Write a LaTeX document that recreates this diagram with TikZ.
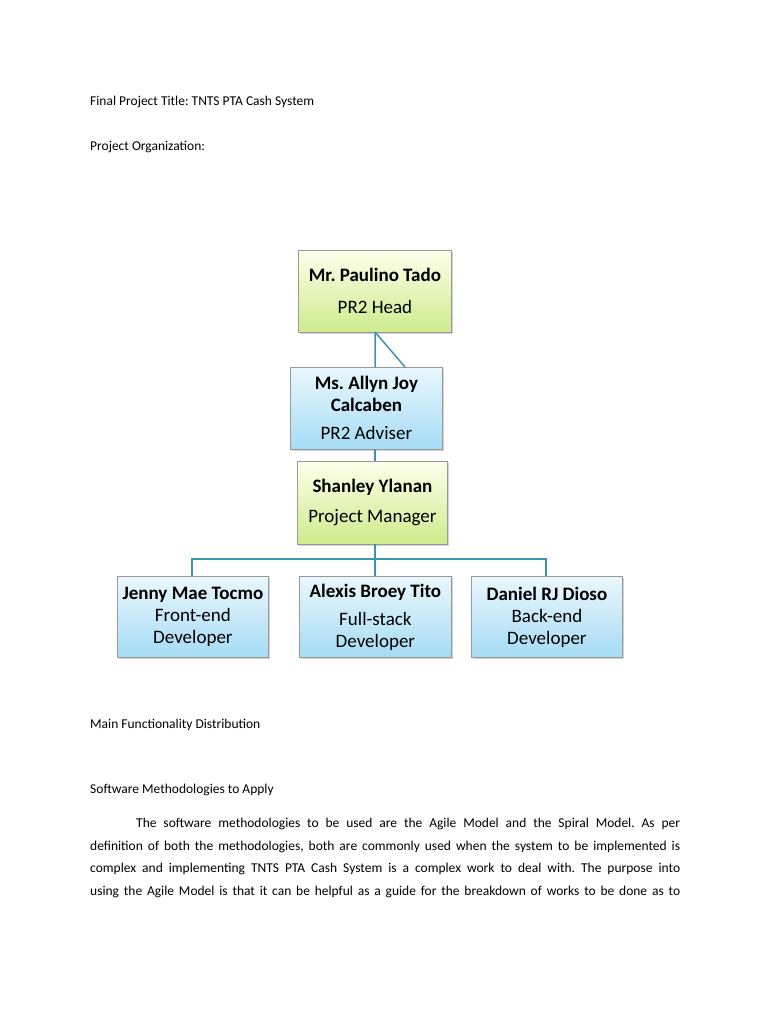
\documentclass[tikz,border=0pt]{standalone}
\usepackage{fontspec}
\setmainfont{Carlito}
\frenchspacing
\usetikzlibrary{shadows}
\begin{document}
\begin{tikzpicture}[x=1pt,y=-1pt,
  box/.style={draw=black!40, line width=0.8pt, drop shadow={opacity=0.35,shadow xshift=1.5pt,shadow yshift=-1.5pt}, align=center, font=\fontsize{19}{22}\selectfont, inner sep=0pt, anchor=north west},
  gbox/.style={box, top color=green!6!yellow!8, bottom color={rgb,255:red,205;green,235;blue,140}},
  bbox/.style={box, top color={rgb,255:red,234;green,247;blue,253}, bottom color={rgb,255:red,165;green,220;blue,245}},
  conn/.style={draw={rgb,255:red,60;green,150;blue,170}, line width=1.5pt},
  body/.style={font=\fontsize{13.5}{22.6}\selectfont\frenchspacing, anchor=north west, inner sep=0pt, align=justify}]
\useasboundingbox (0,0) rectangle (768,1024);
\fill[white] (0,0) rectangle (768,1024);
\node[body] (t1) at (90,96) {Final Project Title: TNTS PTA Cash System};
\node[body] (t2) at (90,141) {Project Organization:};
\node[gbox, minimum width=153pt, minimum height=82pt] (head) at (298,250) {\textbf{Mr. Paulino Tado}\\[10pt]PR2 Head};
\node[bbox, minimum width=152pt, minimum height=82pt] (adv) at (290,367) {\textbf{Ms. Allyn Joy}\\\textbf{Calcaben}\\[6pt]PR2 Adviser};
\node[gbox, minimum width=150pt, minimum height=83pt] (pm) at (297,461) {\textbf{Shanley Ylanan}\\[8pt]Project Manager};
\node[bbox, minimum width=151pt, minimum height=81pt] (c1) at (117,576) {\textbf{Jenny Mae Tocmo}\\Front-end\\Developer};
\node[bbox, minimum width=152pt, minimum height=81pt] (c2) at (299,576) {\textbf{Alexis Broey Tito}\\[6pt]Full-stack\\Developer};
\node[bbox, minimum width=151pt, minimum height=81pt] (c3) at (471,576) {\textbf{Daniel RJ Dioso}\\Back-end\\Developer};
\coordinate (hb) at (375,332);
\coordinate (bus) at (375,559);
\draw[conn] (hb) -- (375,367) (hb) -- (405,367);
\draw[conn] (375,449) -- (375,461);
\draw[conn] (375,544) -- (bus);
\draw[conn] (192,576) |- (bus) -| (546,576);
\draw[conn] (bus) -- (375,576);
\node[body] (t3) at (90,719) {Main Functionality Distribution};
\node[body] (t4) at (90,784) {Software Methodologies to Apply};
\node[body, text width=590pt] (p) at (90,818) {\hspace*{46pt}The software methodologies to be used are the Agile Model and the Spiral Model. As per\linebreak definition of both the methodologies, both are commonly used when the system to be implemented is\linebreak complex and implementing TNTS PTA Cash System is a complex work to deal with. The purpose into\linebreak using the Agile Model is that it can be helpful as a guide for the breakdown of works to be done as to\linebreak};
\end{tikzpicture}
\end{document}
